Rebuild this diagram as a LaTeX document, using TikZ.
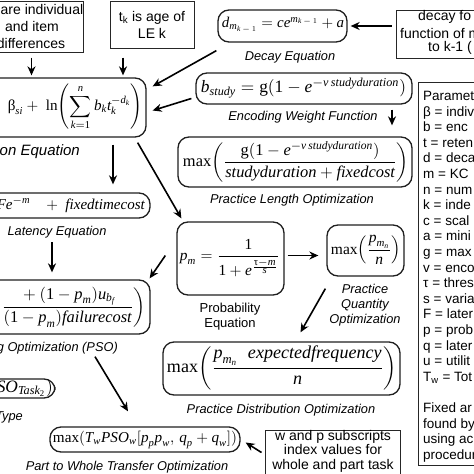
\RequirePackage{fix-cm}
\documentclass[tikz,border=0pt]{standalone}
\usepackage{fontspec}
\setmainfont{Liberation Sans}
\newfontfamily\tms{Liberation Serif}
\usepackage{amsmath}
\usepackage{graphicx}
\usetikzlibrary{arrows.meta}
\newcommand\vi[1]{\text{\tms\itshape #1}}
\newcommand\vr[1]{\text{\tms\upshape #1}}
\begin{document}
\begin{tikzpicture}[x=1pt,y=-1pt,
  rbox/.style={draw=black!88, line width=1.3pt, rounded corners=11pt, inner sep=0pt},
  pbox/.style={draw=black!85, line width=1pt, inner sep=0pt},
  arr/.style={-{Stealth[length=9pt,width=8pt]}, line width=1.6pt},
  lab/.style={font=\itshape\fontsize{12.8}{15}\selectfont, inner sep=0pt},
  txt/.style={font=\fontsize{14}{15.5}\selectfont, inner sep=0pt},
  frm/.style={inner sep=0pt},
]
\useasboundingbox (0,0) rectangle (474,474);
\fill[white] (0,0) rectangle (474,474);
\clip (0,0) rectangle (474,474);

% ---------- plain text boxes ----------
\node[pbox, minimum width=103pt, minimum height=51pt] (indiv) at (31.5,26.5) {};
\node[txt, anchor=west] (indiva) at (0.5,9) {are individual};
\node[txt] (indivb) at (32,26) {and item};
\node[txt] (indivc) at (31,43) {differences};

\node[pbox, minimum width=84pt, minimum height=47pt] (tk) at (152,24.5) {};
\node[txt, align=center, font=\fontsize{14}{17}\selectfont] (tktext) at (152,25) {t\textsubscript{k} is age of\\LE k};

\node[pbox, minimum width=90pt, minimum height=48pt] (info) at (441,34) {};
\node[txt, anchor=west] (infoa) at (418,17) {decay fo};
\node[txt, anchor=west] (infob) at (400,33) {function of m};
\node[txt, anchor=west] (infoc) at (428,48) {to k-1 (};

\node[pbox, minimum width=135pt, minimum height=55pt] (wp) at (332.5,457.5) {};
\node[txt, align=center, font=\fontsize{14}{14.5}\selectfont] (wptext) at (333,451) {w and p subscripts\\index values for\\whole and part task};

\node[pbox, minimum width=82pt, minimum height=383pt] (par) at (459,273.5) {};
\node[txt, anchor=north west, align=left, font=\fontsize{13.5}{15.6}\selectfont] (partext) at (423,91) {Paramet\\
β = indiv\\ b = enc\\ t = reten\\ d = deca\\ m = KC\\ n = num\\ k = inde\\ c = scal\\ a = mini\\ g = max\\ v = enco\\ τ = thres\\ s = varia\\ F = later\\ p = prob\\ q = later\\ u = utilit\\ T\textsubscript{w} = Tot\\[15.6pt]
Fixed ar\\ found by\\ using ac\\ procedur};

% ---------- equation boxes ----------
\node[rbox, minimum width=129pt, minimum height=32pt] (decay) at (282.5,26) {};
\node[frm] (decayf) at (283,25) {\resizebox{122pt}{!}{$\vi{d}_{\vi{m}_{\vi{k}\,-\,\vr{1}}} = \vi{ce}^{\vi{m}_{\vi{k}\,-\,\vr{1}}} + \vi{a}$}};
\node[lab] (ldecay) at (290,57) {Decay Equation};

\node[rbox, minimum width=216pt, minimum height=31pt] (enc) at (304,88.5) {};
\node[frm] (encf) at (303.5,88) {\resizebox{205pt}{!}{$\vi{b}_{\vi{study}} = \vr{g}(\vr{1} - \vi{e}^{-\vi{v}\,\vi{studyduration}})$}};
\node[lab] (lenc) at (303,117) {Encoding Weight Function};
\coordinate (encarr) at (392,110);

\node[rbox, minimum width=166pt, minimum height=59pt] (main) at (63,107.5) {};
\node[frm, anchor=east] (mainf) at (143,107) {\resizebox{135pt}{!}{$\displaystyle \vr{β}_{\vi{si}} + \ \vr{ln}\!\left(\sum_{\vi{k}=\vr{1}}^{\vi{n}}\vi{b}_{\vi{k}}\vi{t}_{\vi{k}}^{-\vi{d}_{\vi{k}}}\right)$}};
\node[lab, anchor=east, font=\itshape\fontsize{15}{17}\selectfont] (lmain) at (80,152) {on Equation};

\node[rbox, minimum width=234pt, minimum height=50pt] (length) at (295,162) {};
\node[frm] (lengthf) at (296,162) {\resizebox{226pt}{!}{$\displaystyle\vr{max}\!\left(\frac{\vr{g}(\vr{1}-\vi{e}^{-\vi{v}\,\vi{studyduration}})}{\vi{studyduration}+\vi{fixedcost}}\right)$}};
\node[lab] (llength) at (292,200) {Practice Length Optimization};

\node[rbox, minimum width=170pt, minimum height=25pt] (latency) at (65,205.5) {};
\node[frm, anchor=east] (latencyf) at (145,205) {\resizebox{148pt}{!}{$\vi{Fe}^{-\vi{m}}\ \ \ + \ \vi{fixedtimecost}$}};
\node[lab] (llatency) at (57,232) {Latency Equation};

\node[rbox, minimum width=107pt, minimum height=73pt] (prob) at (230.5,258.5) {};
\node[frm] (probf) at (230,258) {\resizebox{100pt}{!}{$\displaystyle \vi{p}_{\vi{m}} = \frac{\vr{1}}{\vr{1}+\vi{e}^{\frac{\scriptstyle\vr{τ}-\vi{m}}{\scriptstyle\vi{s}}}}$}};
\node[txt, align=center, font=\fontsize{13}{15}\selectfont] (lprob) at (230,317) {Probability\\Equation};

\node[rbox, minimum width=77pt, minimum height=51pt] (quantity) at (365.5,250.5) {};
\node[frm] (quantityf) at (366,250) {\resizebox{70pt}{!}{$\displaystyle\vr{max}\!\left(\frac{\vi{p}_{\vi{m}_{\vi{n}}}}{\vi{n}}\right)$}};
\node[lab, align=center] (lquantity) at (365,305) {Practice\\Quantity\\Optimization};

\node[rbox, minimum width=170pt, minimum height=54pt] (pso) at (65,307) {};
\node[frm, anchor=east] (psof) at (146,307) {\resizebox{146pt}{!}{$\displaystyle\left.\frac{{}+(\vr{1}-\vi{p}_{\vi{m}})\vi{u}_{\vi{b}_{\vi{f}}}}{(\vr{1}-\vi{p}_{\vi{m}})\vi{failurecost}}\right)$}};
\node[lab, anchor=east] (lpso) at (118,348) {g Optimization (PSO)};

\node[rbox, minimum width=75pt, minimum height=19pt] (task) at (17.5,388.5) {};
\node[frm, anchor=east] (taskf) at (53,388) {\resizebox{56pt}{!}{$\vi{SO}_{\vi{Task}_{\vr{2}}})$}};
\node[lab, anchor=east] (ltask) at (23,417) {Type};

\node[rbox, minimum width=237pt, minimum height=53pt] (dist) at (281.5,368.5) {};
\node[frm] (distf) at (282,368) {\resizebox{230pt}{!}{$\displaystyle\vr{max}\!\left(\frac{\vi{p}_{\vi{m}_{\vi{n}}}\ \ \vi{expectedfrequency}}{\vi{n}}\right)$}};
\node[lab] (ldist) at (281,410) {Practice Distribution Optimization};

\node[rbox, minimum width=190pt, minimum height=25pt] (part) at (145,439.5) {};
\node[frm] (partf) at (145,439.5) {\resizebox{184pt}{!}{$\vr{max}(\vi{T}_{\vi{w}}\vi{PSO}_{\vi{w}}[\vi{p}_{\vi{p}}\vi{p}_{\vi{w}},\, \vi{q}_{\vi{p}} + \vi{q}_{\vi{w}}])$}};
\node[lab] (lpart) at (127,467) {Part to Whole Transfer Optimization};

% ---------- connectors ----------
\draw[arr, shorten <=5pt, shorten >=2pt] (indiv.south) -- (indiv.south |- main.north);
\draw[arr, shorten <=9pt, shorten >=2pt] ([shift={(-29,0)}]tk.south) -- ([shift={(-29,0)}]tk.south |- main.north);
\draw[arr, shorten <=4pt, shorten >=3pt] (info.west |- decay.east) -- (decay.east);
\draw[arr] ([shift={(-1,8)}]decay.south west) -- ([shift={(6,9)}]main.north east);
\draw[arr] ([shift={(-4,10)}]enc.west) -- ([shift={(6,3)}]main.east);
\draw[arr, shorten <=5pt, shorten >=11pt] (enc.south -| encarr) -- (encarr |- length.north);
\draw[arr, shorten <=7pt, shorten >=8pt] ([shift={(50,0)}]main.south) -- ([shift={(50,0)}]main.south |- latency.north);
\draw[arr] ([shift={(-9,5)}]main.south east) -- ([shift={(5,-3)}]prob.north west);
\draw[arr, shorten <=4pt, shorten >=7pt] ([shift={(-5,0)}]llatency.south) -- ([shift={(-5,0)}]llatency.south |- pso.north);
\draw[arr] ([shift={(-11,-3)}]prob.west) -- ([shift={(-1,-1)}]pso.north east);
\draw[arr, shorten <=3pt, shorten >=8pt] ([shift={(0,-3)}]prob.east) -- ([shift={(0,-3)}]prob.east -| quantity.west);
\draw[arr] ([shift={(-1,12)}]quantity.south west) -- ([shift={(19,-9)}]dist.north);
\draw[arr] ([shift={(30,22)}]pso.south) -- ([shift={(-17,-15)}]part.north);
\draw[arr] ([shift={(-3,-5)}]wp.west) -- ([shift={(5,3)}]part.east);
\end{tikzpicture}
\end{document}
